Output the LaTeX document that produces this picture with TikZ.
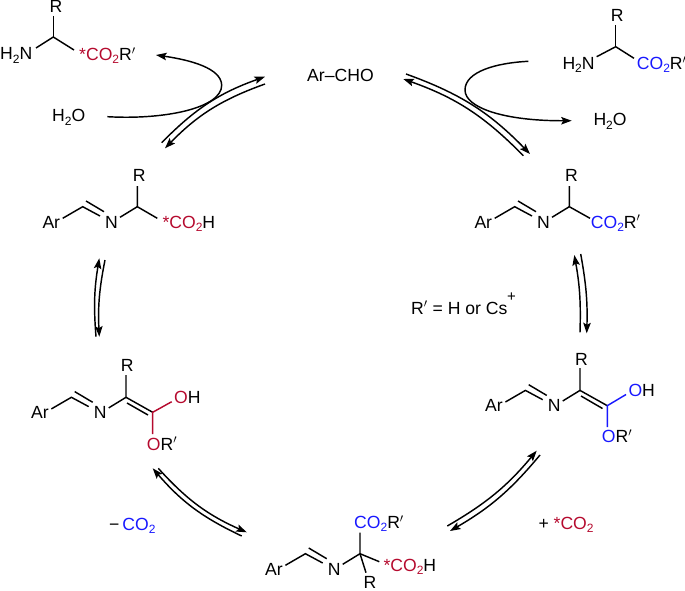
\documentclass[tikz,border=0pt]{standalone}
\usepackage{fontspec}
\setmainfont{Liberation Sans}
\usetikzlibrary{arrows.meta}
\definecolor{cred}{HTML}{B50A2E}
\definecolor{cblue}{HTML}{1818FF}
\newcommand{\two}{\raisebox{-3.5pt}{\fontsize{12pt}{12pt}\selectfont 2}}
\newcommand{\rco}{\textcolor{cred}{*CO\two}}
\newcommand{\bco}{\textcolor{cblue}{CO\two}}
\begin{document}
\begin{tikzpicture}[
    x=1pt, y=-1pt,
    lab/.style={anchor=base west, inner sep=0pt, font=\fontsize{17.6pt}{20pt}\selectfont},
    bond/.style={line width=1.45pt},
    redbond/.style={bond, cred},
    bluebond/.style={bond, cblue},
    arr/.style={line width=1.45pt, -{Stealth[length=10.5pt,width=7.5pt,inset=2pt]}},
    imine/.pic={
        \coordinate (c) at (-54.6,0);
        \coordinate (c2) at (0,0);
        \coordinate (e1) at (-74.6,11.6);
        \coordinate (e2) at (-37.3,9.3);
        \coordinate (e3) at (-51.3,-5.7);
        \coordinate (e4) at (-33.3,5);
        \coordinate (e5) at (-17.3,10.6);
        \node[lab] (ar) at (-95,21.3) {Ar};
        \node[lab] (n) at (-32.3,21.3) {N};
        \draw[bond] (e1) -- (c) -- (e2);
        \draw[bond] (e3) -- (e4);
        \draw[bond] (e5) -- (c2);
    }
]
    \useasboundingbox (0,0) rectangle (685,591);

    % amines on top
    \node[lab] (r1) at (49.3,12.7) {R};
    \node[lab] (nh1) at (0,60) {H\two N};
    \node[lab] (co1) at (79,60.5) {\rco R$'$};
    \coordinate (a1) at (53.3,37);
    \coordinate (a2) at (53.3,16);
    \coordinate (a3) at (36,48);
    \coordinate (a4) at (74,50);
    \draw[bond] (a2) -- (a1);
    \draw[bond] (a3) -- (a1) -- (a4);

    \node[lab] (r2) at (610.7,21.7) {R};
    \node[lab] (nh2) at (562.3,69.3) {H\two N};
    \node[lab] (co2) at (636.7,69.3) {\bco R$'$};
    \coordinate (b1) at (615.7,46.7);
    \coordinate (b2) at (615.7,25);
    \coordinate (b3) at (596.7,56.7);
    \coordinate (b4) at (634,58.3);
    \draw[bond] (b2) -- (b1);
    \draw[bond] (b3) -- (b1) -- (b4);

    \node[lab] (cho) at (307,81.7) {Ar--CHO};
    \node[lab] (w1) at (52,121.5) {H\two O};
    \node[lab] (w2) at (593.3,125.7) {H\two O};

    % imines
    \pic (i1) at (137.3,206.7) {imine};
    \node[lab] (r3) at (132.7,181.7) {R};
    \node[lab] (co3) at (162.3,228) {\rco H};
    \coordinate (c1) at (137.3,186);
    \coordinate (c3) at (157.3,218.3);
    \draw[bond] (c1) -- (i1c2) -- (c3);

    \pic (i2) at (569.3,206.7) {imine};
    \node[lab] (r4) at (565,181.7) {R};
    \node[lab] (co4) at (590.7,228) {\bco R$'$};
    \coordinate (d1) at (569.3,186);
    \coordinate (d3) at (590,218.3);
    \draw[bond] (d1) -- (i2c2) -- (d3);

    % enols
    \pic (i3) at (126,397.3) {imine};
    \node[lab] (r5) at (120.7,371.7) {R};
    \node[lab] (oh5) at (174,403.3) {\textcolor{cred}{O}H};
    \node[lab] (or5) at (146.7,450) {\textcolor{cred}{O}R$'$};
    \coordinate (f1) at (126,375);
    \coordinate (f2) at (152.7,412.3);
    \coordinate (f3) at (171.7,401.7);
    \coordinate (f4) at (152.7,434);
    \coordinate (f5) at (127,403);
    \coordinate (f6) at (148,415);
    \draw[bond] (f1) -- (i3c2) -- (f2);
    \draw[bond] (f5) -- (f6);
    \draw[redbond] (f3) -- (f2) -- (f4);

    \pic (i4) at (580,390.4) {imine};
    \node[lab] (r6) at (575,365) {R};
    \node[lab] (oh6) at (628.3,396) {\textcolor{cblue}{O}H};
    \node[lab] (or6) at (601.7,442.7) {\textcolor{cblue}{O}R$'$};
    \coordinate (g1) at (580,368);
    \coordinate (g2) at (607.3,405.7);
    \coordinate (g3) at (626,394.5);
    \coordinate (g4) at (607.3,427);
    \coordinate (g5) at (581,396);
    \coordinate (g6) at (602.5,408.5);
    \draw[bond] (g1) -- (i4c2) -- (g2);
    \draw[bond] (g5) -- (g6);
    \draw[bluebond] (g3) -- (g2) -- (g4);

    % bottom
    \pic (i5) at (360,553.7) {imine};
    \node[lab] (co7) at (354,528.3) {\bco R$'$};
    \node[lab] (co8) at (383.3,571) {\rco H};
    \node[lab] (r7) at (363.3,588.4) {R};
    \coordinate (h1) at (360,532.7);
    \coordinate (h2) at (379.3,561.7);
    \coordinate (h3) at (366,572.7);
    \draw[bond] (h1) -- (i5c2) -- (h2);
    \draw[bond] (i5c2) -- (h3);

    % notes
    \node[lab] (t1) at (109,530) {\textminus\,\bco};
    \node[lab] (t2) at (538.3,529.3) {+ \rco};
    \node[lab] (t3) at (411,314) {R$'$ = H or Cs};
    \node[lab, font=\fontsize{15pt}{15pt}\selectfont] (t4) at (506.8,301.5) {+};

    % equilibrium arrows
    \coordinate (p1) at (161.7,142.7);
    \coordinate (p2) at (265,76.7);
    \coordinate (p3) at (265,84);
    \coordinate (p4) at (165,148.3);
    \draw[arr] (p1) to[bend left=13] (p2);
    \draw[arr] (p3) to[bend right=13] (p4);

    \coordinate (q1) at (406,74);
    \coordinate (q2) at (530,154);
    \coordinate (q3) at (523.3,155.7);
    \coordinate (q4) at (403.3,79);
    \draw[arr] (q1) to[bend left=13] (q2);
    \draw[arr] (q3) to[bend right=13] (q4);

    \coordinate (s1) at (96,336.7);
    \coordinate (s2) at (99.3,258.3);
    \coordinate (s3) at (105,260);
    \coordinate (s4) at (99.3,336.7);
    \draw[arr] (s1) to[bend left=7] (s2);
    \draw[arr] (s3) to[bend right=7] (s4);

    \coordinate (u1) at (580,332.3);
    \coordinate (u2) at (574.3,255);
    \coordinate (u3) at (580.7,254);
    \coordinate (u4) at (586.7,333.3);
    \draw[arr] (u1) to[bend right=6] (u2);
    \draw[arr] (u3) to[bend left=6] (u4);

    \coordinate (v1) at (158.3,468.3);
    \coordinate (v2) at (246.7,532.3);
    \coordinate (v3) at (241.7,536);
    \coordinate (v4) at (152.7,468.3);
    \draw[arr] (v1) to[bend right=12] (v2);
    \draw[arr] (v3) to[bend left=12] (v4);

    \coordinate (k1) at (447.3,526);
    \coordinate (k2) at (536.7,450.7);
    \coordinate (k3) at (540,455);
    \coordinate (k4) at (450,531);
    \draw[arr] (k1) to[bend right=10] (k2);
    \draw[arr] (k3) to[bend left=10] (k4);

    % curved arrows
    \coordinate (m1) at (107.3,116.7);
    \coordinate (m2) at (221.7,85);
    \coordinate (m3) at (156,55);
    \draw[arr] (m1) .. controls (165,120) and (222,108) .. (m2) .. controls (221,68) and (190,60) .. (m3);
    \coordinate (o1) at (528.3,61.3);
    \coordinate (o2) at (465,90);
    \coordinate (o3) at (571.7,120.7);
    \draw[arr] (o1) .. controls (495,63) and (465,72) .. (o2) .. controls (465,108) and (505,121) .. (o3);
\end{tikzpicture}
\end{document}
